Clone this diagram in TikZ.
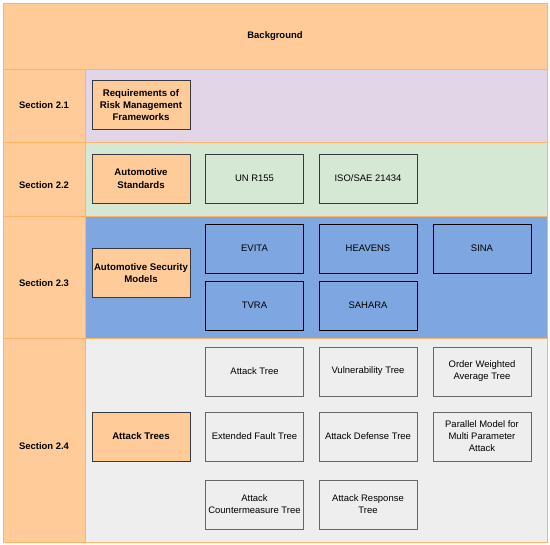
\documentclass[tikz,border=0pt]{standalone}
\usepackage{fontspec}
\setmainfont{Liberation Sans}
\usepackage{tikz}
\usetikzlibrary{positioning}

\definecolor{peach}{HTML}{FFCC99}
\definecolor{peachline}{HTML}{FFB366}
\definecolor{lilac}{HTML}{E1D5E7}
\definecolor{mint}{HTML}{D5E8D4}
\definecolor{skyblue}{HTML}{7EA6E0}
\definecolor{paper}{HTML}{EEEEEE}
\definecolor{boxline}{HTML}{36393D}

\tikzset{
  band/.style={draw=peachline,line width=0.9bp},
  seclabel/.style={font=\fontsize{9.5}{12}\selectfont\bfseries,align=center},
  topicbox/.style={draw=boxline,fill=peach,line width=0.9bp,minimum width=98bp,minimum height=49bp,
    inner sep=1bp,align=center,font=\fontsize{9.7}{12.4}\selectfont\bfseries},
  itembox/.style={line width=0.9bp,minimum width=98bp,minimum height=49bp,
    inner sep=1bp,align=center,font=\fontsize{9.5}{12}\selectfont}
}

\begin{document}
\begin{tikzpicture}[x=1bp,y=-1bp]
\useasboundingbox (0,0) rectangle (550,545);

		% Background header
		\draw[band,fill=peach] (3,3) rectangle (547,69);
		\node[seclabel] (bg) at (275,36) {Background};

		% Section 2.1
		\draw[band,fill=peach] (3,69) rectangle (85,142);
		\draw[band,fill=lilac] (85,69) rectangle (547,142);
		\node[seclabel] (s21) at (44,105) {Section 2.1};
		\node[topicbox] (req) at (141,105) {Requirements of\\Risk Management\\Frameworks};

		% Section 2.2
		\draw[band,fill=peach] (3,142) rectangle (85,216);
		\draw[band,fill=mint] (85,142) rectangle (547,216);
		\node[seclabel] (s22) at (44,185) {Section 2.2};
		\node[topicbox] (std) at (141,178.5) {Automotive\\Standards};
		\node[itembox,draw=boxline,fill=mint] (unr) at (254.5,178.5) {UN R155};
		\node[itembox,draw=boxline,fill=mint] (iso) at (368,178.5) {ISO/SAE 21434};

		% Section 2.3
		\draw[band,fill=peach] (3,216) rectangle (85,338);
		\draw[band,fill=skyblue] (85,216) rectangle (547,338);
		\node[seclabel] (s23) at (44,283) {Section 2.3};
		\node[topicbox] (asm) at (141,273) {Automotive Security\\Models};
		\node[itembox,draw=black,fill=skyblue] (evita) at (254.5,248.5) {EVITA};
		\node[itembox,draw=black,fill=skyblue] (heavens) at (368,248.5) {HEAVENS};
		\node[itembox,draw=black,fill=skyblue] (sina) at (482,248.5) {SINA};
		\node[itembox,draw=black,fill=skyblue] (tvra) at (254.5,305.5) {TVRA};
		\node[itembox,draw=black,fill=skyblue] (sahara) at (368,305.5) {SAHARA};

		% Section 2.4
		\draw[band,fill=peach] (3,338) rectangle (85,542);
		\draw[band,fill=paper] (85,338) rectangle (547,542);
		\node[seclabel] (s24) at (44,446) {Section 2.4};
		\node[topicbox] (atk) at (141,436.5) {Attack Trees};
		\node[itembox,draw=black!60,fill=paper] (at) at (254.5,371.5) {Attack Tree};
		\node[itembox,draw=black!60,fill=paper] (vt) at (368,371.5) {Vulnerability Tree};
		\node[itembox,draw=black!60,fill=paper] (owa) at (482,371.5) {Order Weighted\\Average Tree};
		\node[itembox,draw=black!60,fill=paper] (eft) at (254.5,436.5) {Extended Fault Tree};
		\node[itembox,draw=black!60,fill=paper] (adt) at (368,436.5) {Attack Defense Tree};
		\node[itembox,draw=black!60,fill=paper] (pm) at (482,436.5) {Parallel Model for\\Multi Parameter\\Attack};
		\node[itembox,draw=black!60,fill=paper] (act) at (254.5,504.5) {Attack\\Countermeasure Tree};
		\node[itembox,draw=black!60,fill=paper] (art) at (368,504.5) {Attack Response\\Tree};
\end{tikzpicture}
\end{document}
